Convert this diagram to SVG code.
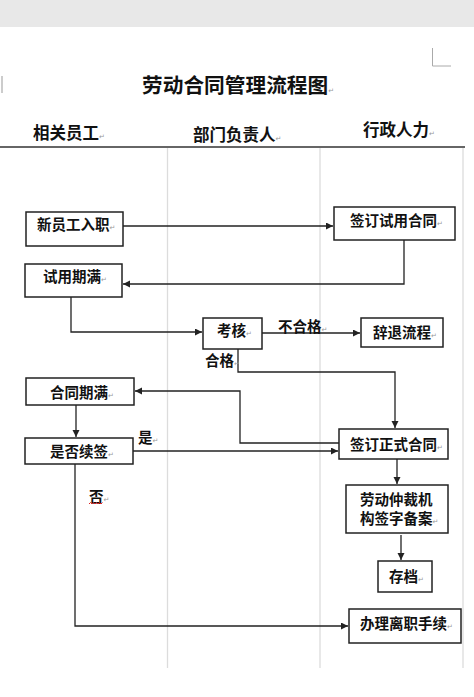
<svg xmlns="http://www.w3.org/2000/svg" width="474" height="697" viewBox="0 0 474 697">
<style>
  .t{font-family:"Noto Sans CJK SC","Liberation Sans",sans-serif;font-weight:bold;fill:#111;font-size:14.5px}
  .h{font-size:16.5px}
  .title{font-size:20.7px}
  .pm{font-family:"DejaVu Sans",sans-serif;font-size:7px;fill:#999;font-weight:normal}
  .box{fill:#fff;stroke:#222;stroke-width:1.5}
  .lane{stroke:#dcdcdc;stroke-width:1.3;fill:none}
  .con{fill:none;stroke:#222;stroke-width:1.3}
</style>
<defs>
  <marker id="ah" markerUnits="userSpaceOnUse" markerWidth="8" markerHeight="8" refX="7" refY="3.5" orient="auto">
    <path d="M0,0 L7,3.5 L0,7 z" fill="#222"/>
  </marker>
</defs>
<rect x="0" y="0" width="474" height="697" fill="#fff"/>
<rect x="0" y="0" width="474" height="27" fill="#e8e8e8"/>
<path d="M432.5,48 V66 H451" fill="none" stroke="#aaa" stroke-width="1"/>
<path d="M2,76 V93" stroke="#ccc" stroke-width="2"/>

<g id="title">
  <text class="t title" x="142" y="93">劳动合同管理流程图<tspan class="pm">↵</tspan></text>
</g>
<g id="header">
  <text class="t h" x="33" y="139">相关员工<tspan class="pm">↵</tspan></text>
  <text class="t h" x="193" y="141">部门负责人<tspan class="pm">↵</tspan></text>
  <text class="t h" x="363" y="136">行政人力<tspan class="pm">↵</tspan></text>
  <line x1="0" y1="147" x2="465" y2="147" stroke="#333" stroke-width="1.6"/>
</g>
<g id="lanes">
  <line class="lane" x1="167.5" y1="148" x2="167.5" y2="668"/>
  <line class="lane" x1="320" y1="148" x2="320" y2="668"/>
  <line class="lane" x1="463" y1="148" x2="463" y2="668"/>
</g>

<g id="connectors">
  <path class="con" d="M123,226 H333" marker-end="url(#ah)"/>
  <path class="con" d="M404,240 V284 H123" marker-end="url(#ah)"/>
  <path class="con" d="M71,297 V332 H202" marker-end="url(#ah)"/>
  <path class="con" d="M262,333 H360" marker-end="url(#ah)"/>
  <path class="con" d="M238,349 V372 H395 V428" marker-end="url(#ah)"/>
  <path class="con" d="M339,443 H240 V391 H135" marker-end="url(#ah)"/>
  <path class="con" d="M76,405 V437" marker-end="url(#ah)"/>
  <path class="con" d="M133,451 H338" marker-end="url(#ah)"/>
  <path class="con" d="M397,459 V484" marker-end="url(#ah)"/>
  <path class="con" d="M401,535 V560" marker-end="url(#ah)"/>
  <path class="con" d="M75,464 V626 H348" marker-end="url(#ah)"/>
</g>

<g id="n-xinyuangong">
  <rect class="box" x="26" y="212" width="97" height="34"/>
  <text class="t" x="37" y="230">新员工入职<tspan class="pm">↵</tspan></text>
</g>
<g id="n-qiandingshiyong">
  <rect class="box" x="334" y="207" width="121" height="33"/>
  <text class="t" x="350" y="225.5">签订试用合同<tspan class="pm">↵</tspan></text>
</g>
<g id="n-shiyongqiman">
  <rect class="box" x="25" y="264" width="97" height="33"/>
  <text class="t" x="43" y="282">试用期满<tspan class="pm">↵</tspan></text>
</g>
<g id="n-kaohe">
  <rect class="box" x="203" y="318" width="59" height="31"/>
  <text class="t" x="217" y="335.5">考核<tspan class="pm">↵</tspan></text>
</g>
<g id="n-citui">
  <rect class="box" x="361" y="318" width="82" height="29"/>
  <text class="t" x="373" y="338">辞退流程<tspan class="pm">↵</tspan></text>
</g>
<g id="n-hetongqiman">
  <rect class="box" x="26" y="378" width="108" height="27"/>
  <text class="t" x="50" y="397.5">合同期满<tspan class="pm">↵</tspan></text>
</g>
<g id="n-shifouxuqian">
  <rect class="box" x="25" y="438" width="108" height="26"/>
  <text class="t" x="50" y="457">是否续签<tspan class="pm">↵</tspan></text>
</g>
<g id="n-zhengshihetong">
  <rect class="box" x="339" y="429" width="109" height="30"/>
  <text class="t" x="350" y="450">签订正式合同<tspan class="pm">↵</tspan></text>
</g>
<g id="n-zhongcai">
  <rect class="box" x="346" y="485" width="102" height="48"/>
  <text class="t" x="360" y="505">劳动仲裁机</text>
  <text class="t" x="360" y="524">构签字备案<tspan class="pm">↵</tspan></text>
</g>
<g id="n-cundang">
  <rect class="box" x="378" y="561" width="54" height="31"/>
  <text class="t" x="389" y="582">存档<tspan class="pm">↵</tspan></text>
</g>
<g id="n-lizhi">
  <rect class="box" x="349" y="609" width="112" height="34"/>
  <text class="t" x="360" y="629">办理离职手续<tspan class="pm">↵</tspan></text>
</g>

<g id="labels">
  <text class="t" x="278" y="332">不合格<tspan class="pm">↵</tspan></text>
  <text class="t" x="205" y="366">合格<tspan class="pm">↵</tspan></text>
  <text class="t" x="138" y="443">是<tspan class="pm">↵</tspan></text>
  <text class="t" x="89" y="502">否<tspan class="pm">↵</tspan></text>
  <path d="M89,504 l1.5,-1.5 l1.5,1.5 l1.5,-1.5 l1.5,1.5 l1.5,-1.5 l1.5,1.5 l1.5,-1.5 l1.5,1.5 l1.5,-1.5" fill="none" stroke="#d22" stroke-width="1"/>
</g>
</svg>
